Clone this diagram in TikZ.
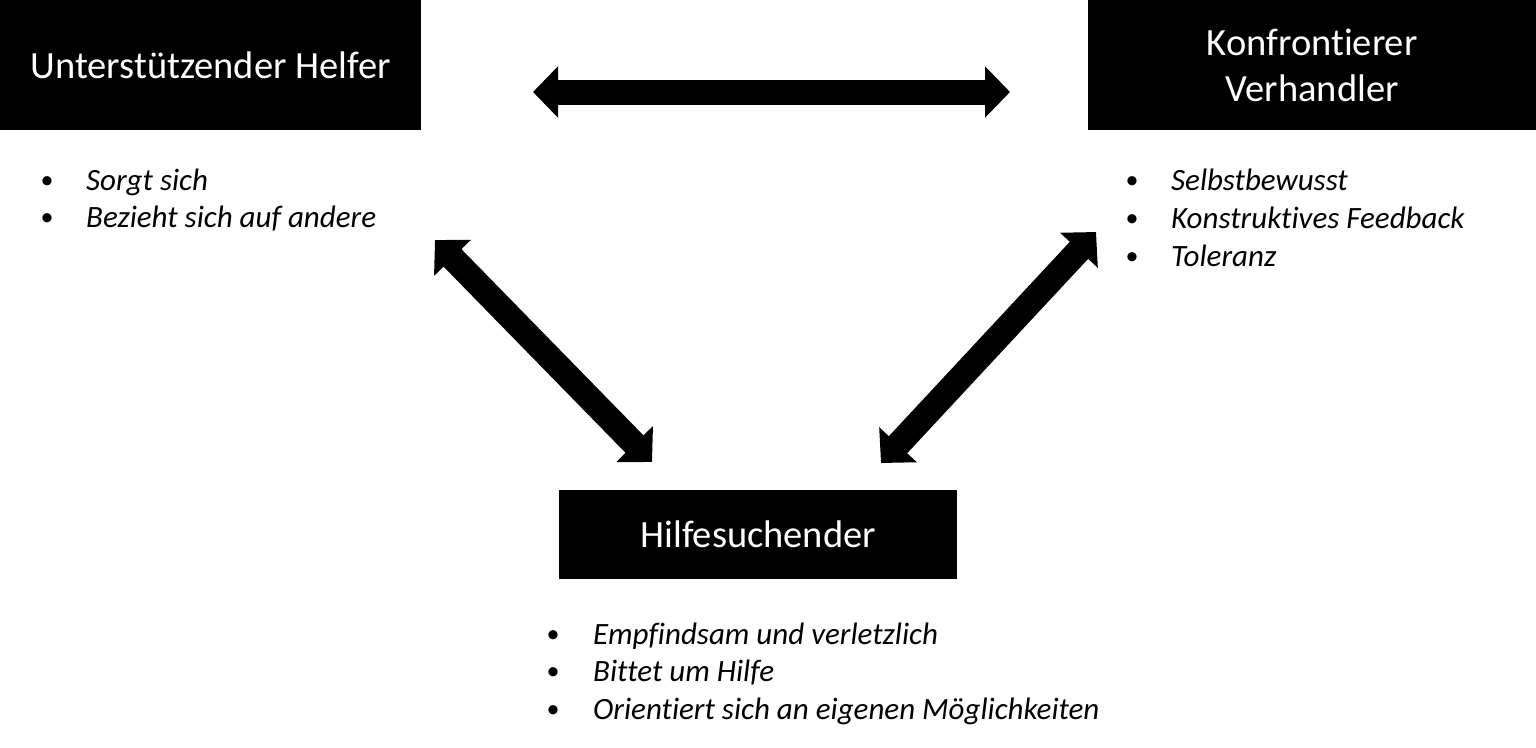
\documentclass[tikz,border=0pt]{standalone}
\usepackage{fontspec}
\setmainfont[Ligatures={NoCommon}]{Carlito}
\usetikzlibrary{arrows.meta}
\tikzset{
  blackbox/.style={fill=black, text=white, inner sep=0pt, anchor=north west, align=center,
    font=\fontsize{38.5}{46}\selectfont},
  itemtext/.style={anchor=base west, inner sep=0pt, font=\fontsize{31}{37}\selectfont\itshape},
  bulletmark/.style={anchor=base, inner sep=0pt, yshift=1.5pt, font=\fontsize{26}{37}\selectfont},
  bigarrow/.style={line width=25pt, {Triangle[width=50pt,length=25pt]}-{Triangle[width=50pt,length=25pt]}}
}
\begin{document}
\begin{tikzpicture}[x=1pt,y=-1pt]
\useasboundingbox (0,0) rectangle (1536,747);
% boxes
\node[blackbox, minimum width=421pt, minimum height=130pt] (helfer) at (0,0) {Unterstützender Helfer};
\node[blackbox, minimum width=448pt, minimum height=130pt] (konf) at (1088,0) {Konfrontierer\\Verhandler};
\node[blackbox, minimum width=398pt, minimum height=89pt] (hilfe) at (559,490) {Hilfesuchender};
% arrow end points
\coordinate (h1) at (533,92);
\coordinate (h2) at (1010,92);
\coordinate (l1) at (435,240);
\coordinate (l2) at (652,462);
\coordinate (r1) at (1096,232);
\coordinate (r2) at (881,463);
\draw[bigarrow] (h1) -- (h2);
\draw[bigarrow] (l1) -- (l2);
\draw[bigarrow] (r1) -- (r2);
% left list
\node[bulletmark] (lb1) at (47,190) {•};
\node[itemtext] (lt1) at (86,190) {Sorgt sich};
\node[bulletmark] (lb2) at (47,227) {•};
\node[itemtext] (lt2) at (86,227) {Bezieht sich auf andere};
% right list
\node[bulletmark] (rb1) at (1132,190) {•};
\node[itemtext] (rt1) at (1171,190) {Selbstbewusst};
\node[bulletmark] (rb2) at (1132,228) {•};
\node[itemtext] (rt2) at (1171,228) {Konstruktives Feedback};
\node[bulletmark] (rb3) at (1132,266) {•};
\node[itemtext] (rt3) at (1171,266) {Toleranz};
% bottom list
\node[bulletmark] (bb1) at (553,644) {•};
\node[itemtext] (bt1) at (593,644) {Empfindsam und verletzlich};
\node[bulletmark] (bb2) at (553,681) {•};
\node[itemtext] (bt2) at (593,681) {Bittet um Hilfe};
\node[bulletmark] (bb3) at (553,719) {•};
\node[itemtext] (bt3) at (593,719) {Orientiert sich an eigenen Möglichkeiten};
\end{tikzpicture}
\end{document}
